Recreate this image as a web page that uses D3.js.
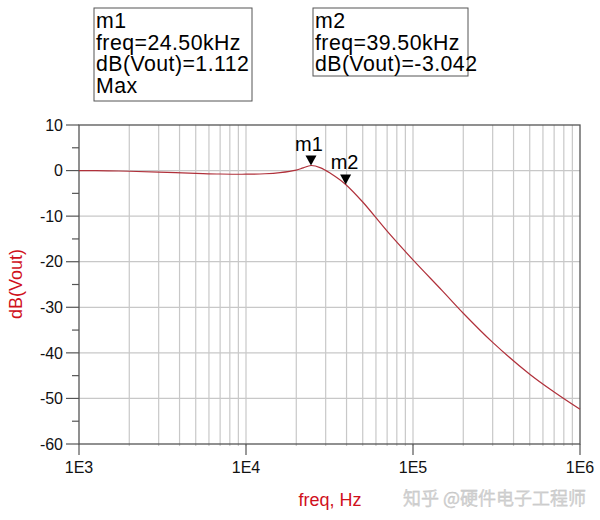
<!DOCTYPE html>
<html><head><meta charset="utf-8">
<script src="https://cdn.jsdelivr.net/npm/d3@7"></script>
<style>body{margin:0;background:#fff}svg{display:block}</style>
</head><body>
<svg id="c" width="600" height="520"></svg>
<script>
const freqs = [1e3,1.5e3,2e3,3e3,5e3,7e3,1e4,1.3e4,1.6e4,2e4,2.2e4,2.45e4,2.8e4,3.2e4,3.95e4,5e4,7e4,1e5,1.5e5,2e5,3e5,5e5,7e5,1e6];
const dbVout = [0,-0.05,-0.15,-0.35,-0.6,-0.75,-0.8,-0.7,-0.45,0.1,0.6,1.112,0.6,-0.6,-3.042,-6.9,-13.3,-19.6,-26.4,-31.3,-37.7,-44.7,-48.6,-52.4];
const yTicks = [10,0,-10,-20,-30,-40,-50,-60];
const xTickLabels = ["1E3","1E4","1E5","1E6"];
const xTickVals = [1e3,1e4,1e5,1e6];
const markers = [
  {name:"m1", freq:2.45e4, db:1.112, lines:["m1","freq=24.50kHz","dB(Vout)=1.112","Max"]},
  {name:"m2", freq:3.95e4, db:-3.042, lines:["m2","freq=39.50kHz","dB(Vout)=-3.042"]}
];

const svg = d3.select("#c");
const L=79, R=580, T=125, B=444;
const x = d3.scaleLog().domain([1e3,1e6]).range([L,R]);
const y = d3.scaleLinear().domain([-60,10]).range([B,T]);
const font = "'Liberation Sans', Arial, sans-serif";

// grid
const minor = [];
for (let d=1e3; d<1e6; d*=10) for (let k=2;k<=9;k++) minor.push(d*k);
svg.append("g").selectAll("line").data(minor.concat(xTickVals.slice(1,3))).join("line")
  .attr("x1",d=>x(d)).attr("x2",d=>x(d)).attr("y1",T).attr("y2",B+2)
  .attr("stroke","#c8c8c8").attr("stroke-width",1.2);
svg.append("g").selectAll("line").data(yTicks.slice(1,7)).join("line")
  .attr("x1",L).attr("x2",R).attr("y1",d=>y(d)).attr("y2",d=>y(d))
  .attr("stroke","#c8c8c8").attr("stroke-width",1.2);

// frame
svg.append("rect").attr("x",L).attr("y",T).attr("width",R-L).attr("height",B-T)
  .attr("fill","none").attr("stroke","#555").attr("stroke-width",1.3);

// y axis ticks
svg.append("g").selectAll("line").data(d3.range(-60,11,5)).join("line")
  .attr("x1",d=>d%10===0?66:72).attr("x2",L).attr("y1",d=>y(d)).attr("y2",d=>y(d))
  .attr("stroke","#555").attr("stroke-width",1.2);
svg.append("g").selectAll("text").data(yTicks).join("text")
  .attr("x",63).attr("y",d=>y(d)).attr("dy","0.36em").attr("text-anchor","end")
  .attr("font-family",font).attr("font-size",16).attr("fill","#111").text(d=>d);

// x axis
svg.append("g").selectAll("line").data(xTickVals).join("line")
  .attr("x1",d=>x(d)).attr("x2",d=>x(d)).attr("y1",B).attr("y2",B+11)
  .attr("stroke","#555").attr("stroke-width",1.2);
svg.append("g").selectAll("text").data(xTickVals).join("text")
  .attr("x",d=>x(d)).attr("y",473).attr("text-anchor","middle")
  .attr("font-family",font).attr("font-size",16).attr("fill","#111").text((d,i)=>xTickLabels[i]);

// axis titles
svg.append("text").attr("transform","translate(22,284) rotate(-90)").attr("text-anchor","middle")
  .attr("font-family",font).attr("font-size",18).attr("fill","#d0101c").text("dB(Vout)");
svg.append("text").attr("x",330).attr("y",506).attr("text-anchor","middle")
  .attr("font-family",font).attr("font-size",18).attr("fill","#d0101c").text("freq, Hz");

// curve
const line = d3.line().x((d,i)=>x(freqs[i])).y(d=>y(d)).curve(d3.curveCatmullRom.alpha(0.5));
svg.append("path").attr("d",line(dbVout)).attr("fill","none")
  .attr("stroke","#b0303a").attr("stroke-width",1.2);

// markers on curve
markers.forEach((m,i)=>{
  const px=x(m.freq), py=y(m.db);
  svg.append("path").attr("d",`M${px-5.5},${py-10}L${px+5.5},${py-10}L${px},${py}Z`).attr("fill","#000");
  if(i===0) svg.append("text").attr("x",px-2).attr("y",py-15).attr("text-anchor","middle")
    .attr("font-family",font).attr("font-size",20).attr("fill","#000").text(m.name);
  else svg.append("text").attr("x",px-15).attr("y",py-15).attr("text-anchor","start")
    .attr("font-family",font).attr("font-size",20).attr("fill","#000").text(m.name);
});

// marker boxes
const boxes=[{x:94,y:8,w:158,h:93},{x:313,y:8,w:155,h:68}];
markers.forEach((m,i)=>{
  const b=boxes[i];
  svg.append("rect").attr("x",b.x).attr("y",b.y).attr("width",b.w).attr("height",b.h)
    .attr("fill","#fff").attr("stroke","#555").attr("stroke-width",1);
  svg.append("g").selectAll("text").data(m.lines).join("text")
    .attr("x",b.x+2).attr("y",(d,j)=>28+j*21.7)
    .attr("font-family",font).attr("font-size",21.3).attr("letter-spacing","0.45px")
    .attr("fill","#000").text(d=>d);
});

// watermark
svg.append("text").attr("x",586).attr("y",505).attr("text-anchor","end")
  .attr("font-family","'Noto Sans CJK SC', sans-serif").attr("font-size",18)
  .attr("fill","#d4d4d4").attr("stroke","#bbb").attr("stroke-width",0.3).text("知乎 @硬件电子工程师");
</script>
</body></html>
